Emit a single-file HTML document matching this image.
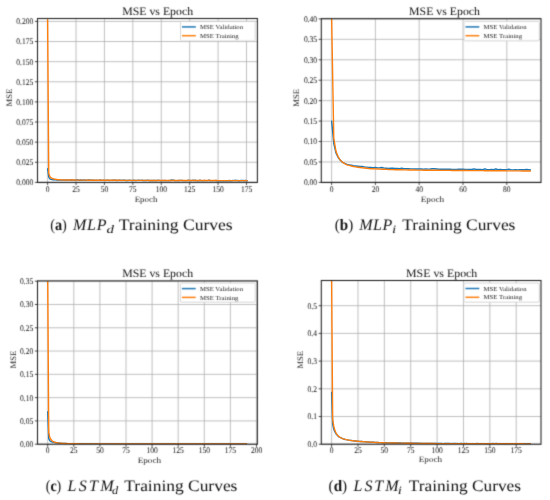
<!DOCTYPE html>
<html><head><meta charset="utf-8"><title>Training Curves</title>
<style>html,body{margin:0;padding:0;background:#fff;width:550px;height:500px;overflow:hidden}svg{display:block}text{font-family:"Liberation Serif", "DejaVu Serif", serif;text-rendering:geometricPrecision}</style></head>
<body><svg width="550" height="500" viewBox="0 0 550 500">
<defs><filter id="soft" x="0" y="0" width="550" height="500" filterUnits="userSpaceOnUse" color-interpolation-filters="sRGB"><feConvolveMatrix order="3" kernelMatrix="0.02041 0.10204 0.02041 0.10204 0.51020 0.10204 0.02041 0.10204 0.02041" edgeMode="duplicate"/></filter></defs>
<rect width="550" height="500" fill="#fff"/>
<g filter="url(#soft)">
<clipPath id="c0"><rect x="37.5" y="18.5" width="219.9" height="163.9"/></clipPath>
<path d="M47.6 18.5V182.4M76.02 18.5V182.4M104.43 18.5V182.4M132.84 18.5V182.4M161.26 18.5V182.4M189.68 18.5V182.4M218.09 18.5V182.4M246.5 18.5V182.4M37.5 182.4H257.4M37.5 162.28H257.4M37.5 142.15H257.4M37.5 122.03H257.4M37.5 101.9H257.4M37.5 81.78H257.4M37.5 61.65H257.4M37.5 41.53H257.4M37.5 21.4H257.4" stroke="#b0b0b0" stroke-width="0.8" fill="none"/>
<clipPath id="c1"><rect x="321.3" y="18.7" width="219.7" height="163.7"/></clipPath>
<path d="M331.6 18.7V182.4M375.4 18.7V182.4M419.2 18.7V182.4M463 18.7V182.4M506.8 18.7V182.4M321.3 182.4H541M321.3 161.96H541M321.3 141.53H541M321.3 121.09H541M321.3 100.65H541M321.3 80.21H541M321.3 59.77H541M321.3 39.34H541M321.3 18.9H541" stroke="#b0b0b0" stroke-width="0.8" fill="none"/>
<clipPath id="c2"><rect x="37.5" y="280.9" width="219.9" height="163.3"/></clipPath>
<path d="M47.7 280.9V444.2M73.8 280.9V444.2M99.9 280.9V444.2M126 280.9V444.2M152.1 280.9V444.2M178.2 280.9V444.2M204.3 280.9V444.2M230.4 280.9V444.2M256.5 280.9V444.2M37.5 444.2H257.4M37.5 420.91H257.4M37.5 397.63H257.4M37.5 374.34H257.4M37.5 351.06H257.4M37.5 327.77H257.4M37.5 304.49H257.4M37.5 281.2H257.4" stroke="#b0b0b0" stroke-width="0.8" fill="none"/>
<clipPath id="c3"><rect x="321.3" y="280.5" width="219.7" height="163.7"/></clipPath>
<path d="M331.6 280.5V444.2M357.98 280.5V444.2M384.35 280.5V444.2M410.73 280.5V444.2M437.1 280.5V444.2M463.48 280.5V444.2M489.85 280.5V444.2M516.23 280.5V444.2M321.3 444.2H541M321.3 416.5H541M321.3 388.8H541M321.3 361.1H541M321.3 333.4H541M321.3 305.7H541" stroke="#b0b0b0" stroke-width="0.8" fill="none"/>
</g>
<g>
<g clip-path="url(#c0)" fill="none" stroke-width="1.4" stroke-linejoin="round" stroke-linecap="butt"><polyline points="47.6,168.23 48.74,177.17 49.87,178.78 51.01,179.34 52.15,179.55 53.28,179.74 54.42,179.81 55.56,179.88 56.69,179.94 57.83,180 58.97,180.07 60.1,180.08 61.24,180.09 62.38,180.1 63.51,180.01 64.65,180.08 65.79,179.99 66.92,180.12 68.06,179.88 69.2,180.15 70.33,180.17 71.47,179.74 72.61,180.04 73.74,180.16 74.88,180.2 76.02,180.08 77.15,179.68 78.29,180.23 79.42,180.24 80.56,179.98 81.7,180.2 82.83,180.27 83.97,180.05 85.11,180.15 86.24,180.3 87.38,180.14 88.52,180.07 89.65,180.06 90.79,180.27 91.93,180.22 93.06,180.31 94.2,180.19 95.34,180.35 96.47,180.3 97.61,180.4 98.75,180.4 99.88,180.01 101.02,180.2 102.16,180.37 103.29,180.1 104.43,180.41 105.57,180.34 106.7,180.27 107.84,180.27 108.98,180.43 110.11,180.38 111.25,180.39 112.39,180.22 113.52,180.26 114.66,180.32 115.8,180.31 116.93,180.46 118.07,180.39 119.21,180.26 120.34,180.29 121.48,180.4 122.62,180.29 123.75,180.16 124.89,180.3 126.03,180.46 127.16,180.42 128.3,180.46 129.44,180.06 130.57,180.41 131.71,180.43 132.84,180.43 133.98,180.13 135.12,180.54 136.25,180.51 137.39,180.38 138.53,180.06 139.66,180.34 140.8,180.34 141.94,180.23 143.07,180.47 144.21,180.51 145.35,180.5 146.48,180.5 147.62,180.19 148.76,180.45 149.89,180.53 151.03,180.56 152.17,180.53 153.3,180.44 154.44,180.49 155.58,180.44 156.71,180.61 157.85,180.27 158.99,180.4 160.12,180.56 161.26,180.6 162.4,180.55 163.53,180.61 164.67,180.4 165.81,180.56 166.94,180.6 168.08,180.63 169.22,180.49 170.35,180.58 171.49,179.91 172.63,180.22 173.76,180.22 174.9,180.46 176.04,180.62 177.17,180.6 178.31,180.51 179.45,180.44 180.58,180.33 181.72,180.36 182.86,180.54 183.99,180.58 185.13,180.6 186.27,180.66 187.4,180.49 188.54,180.09 189.68,180.66 190.81,180.46 191.95,180.64 193.08,180.18 194.22,180.48 195.36,180.3 196.49,180.59 197.63,180.68 198.77,180.62 199.9,180.27 201.04,180.51 202.18,180.68 203.31,180.67 204.45,180.57 205.59,180.65 206.72,180.63 207.86,180.58 209,180.01 210.13,180.7 211.27,180.67 212.41,180.61 213.54,180.6 214.68,180.58 215.82,180.49 216.95,180.73 218.09,180.64 219.23,180.71 220.36,180.7 221.5,180.6 222.64,180.7 223.77,180.71 224.91,180.67 226.05,180.71 227.18,180.67 228.32,180.72 229.46,180.51 230.59,180.72 231.73,180.75 232.87,180.53 234,180.58 235.14,180.28 236.28,180.57 237.41,180.52 238.55,180.73 239.69,180.74 240.82,180.54 241.96,180.47 243.1,180.48 244.23,180.74 245.37,180.32 246.5,180.76 247.64,180.78" stroke="#1f77b4"/><polyline points="47.6,19.15 48.74,173.14 49.87,176.68 51.01,177.6 52.15,178.38 53.28,178.76 54.42,179.1 55.56,179.27 56.69,179.44 57.83,179.6 58.97,179.74 60.1,179.79 61.24,179.84 62.38,179.89 63.51,179.94 64.65,179.99 65.79,180 66.92,180.01 68.06,180.02 69.2,180.03 70.33,180.04 71.47,180.05 72.61,180.06 73.74,180.07 74.88,180.07 76.02,180.08 77.15,180.09 78.29,180.1 79.42,180.11 80.56,180.12 81.7,180.13 82.83,180.14 83.97,180.15 85.11,180.16 86.24,180.17 87.38,180.18 88.52,180.19 89.65,180.2 90.79,180.21 91.93,180.22 93.06,180.23 94.2,180.23 95.34,180.24 96.47,180.24 97.61,180.24 98.75,180.25 99.88,180.25 101.02,180.26 102.16,180.26 103.29,180.26 104.43,180.27 105.57,180.27 106.7,180.28 107.84,180.28 108.98,180.29 110.11,180.29 111.25,180.29 112.39,180.3 113.52,180.3 114.66,180.31 115.8,180.31 116.93,180.31 118.07,180.32 119.21,180.32 120.34,180.33 121.48,180.33 122.62,180.33 123.75,180.34 124.89,180.34 126.03,180.35 127.16,180.35 128.3,180.35 129.44,180.36 130.57,180.36 131.71,180.37 132.84,180.37 133.98,180.37 135.12,180.38 136.25,180.38 137.39,180.39 138.53,180.39 139.66,180.39 140.8,180.4 141.94,180.4 143.07,180.41 144.21,180.41 145.35,180.41 146.48,180.42 147.62,180.42 148.76,180.43 149.89,180.43 151.03,180.43 152.17,180.44 153.3,180.44 154.44,180.45 155.58,180.45 156.71,180.45 157.85,180.46 158.99,180.46 160.12,180.46 161.26,180.47 162.4,180.47 163.53,180.47 164.67,180.47 165.81,180.48 166.94,180.48 168.08,180.48 169.22,180.48 170.35,180.49 171.49,180.49 172.63,180.49 173.76,180.49 174.9,180.49 176.04,180.5 177.17,180.5 178.31,180.5 179.45,180.5 180.58,180.51 181.72,180.51 182.86,180.51 183.99,180.51 185.13,180.51 186.27,180.52 187.4,180.52 188.54,180.52 189.68,180.52 190.81,180.52 191.95,180.53 193.08,180.53 194.22,180.53 195.36,180.53 196.49,180.54 197.63,180.54 198.77,180.54 199.9,180.54 201.04,180.54 202.18,180.55 203.31,180.55 204.45,180.55 205.59,180.55 206.72,180.55 207.86,180.56 209,180.56 210.13,180.56 211.27,180.56 212.41,180.57 213.54,180.57 214.68,180.57 215.82,180.57 216.95,180.57 218.09,180.58 219.23,180.58 220.36,180.58 221.5,180.58 222.64,180.58 223.77,180.59 224.91,180.59 226.05,180.59 227.18,180.59 228.32,180.59 229.46,180.6 230.59,180.6 231.73,180.6 232.87,180.6 234,180.6 235.14,180.61 236.28,180.61 237.41,180.61 238.55,180.61 239.69,180.61 240.82,180.62 241.96,180.62 243.1,180.62 244.23,180.62 245.37,180.62 246.5,180.63 247.64,180.63" stroke="#ff7f0e"/></g>
<g clip-path="url(#c1)" fill="none" stroke-width="1.4" stroke-linejoin="round" stroke-linecap="butt"><polyline points="331.6,120.68 333.79,143.57 335.98,152.97 338.17,157.47 340.36,160.33 342.55,162.37 344.74,163.42 346.93,164.41 349.12,164.86 351.31,165.3 353.5,165.72 355.69,166 357.88,166.26 360.07,166.53 362.26,166.38 364.45,166.94 366.64,167.13 368.83,167.4 371.02,167.5 373.21,167.69 375.4,167.44 377.59,167.88 379.78,167.79 381.97,167.49 384.16,168.12 386.35,168.24 388.54,168.37 390.73,168.29 392.92,168.25 395.11,168.36 397.3,168.38 399.49,168.68 401.68,168.28 403.87,168.76 406.06,168.71 408.25,168.72 410.44,168.83 412.63,168.92 414.82,168.97 417.01,169.01 419.2,169.05 421.39,168.99 423.58,169.1 425.77,168.86 427.96,169.15 430.15,169.03 432.34,168.77 434.53,168.74 436.72,169 438.91,169.22 441.1,169.29 443.29,169.19 445.48,169.14 447.67,169.31 449.86,169.16 452.05,169.38 454.24,169.42 456.43,169.42 458.62,169.32 460.81,169.26 463,169.23 465.19,169.39 467.38,169.47 469.57,169.56 471.76,169.52 473.95,168.92 476.14,169.54 478.33,169.51 480.52,169.56 482.71,169.67 484.9,168.79 487.09,169.69 489.28,169.68 491.47,169.55 493.66,169.76 495.85,168.89 498.04,169.73 500.23,169.52 502.42,169.77 504.61,169.61 506.8,169.71 508.99,169.19 511.18,169.89 513.37,169.91 515.56,169.81 517.75,169.86 519.94,169.75 522.13,169.6 524.32,169.71 526.51,169.55 528.7,169.76 530.89,170.04" stroke="#1f77b4"/><polyline points="331.6,16.86 333.79,138.25 335.98,151.34 338.17,156.85 340.36,160.12 342.55,162.37 344.74,163.64 346.93,164.82 349.12,165.42 351.31,165.99 353.5,166.54 355.69,166.87 357.88,167.19 360.07,167.5 362.26,167.81 364.45,168.05 366.64,168.28 368.83,168.51 371.02,168.68 373.21,168.78 375.4,168.89 377.59,169 379.78,169.1 381.97,169.2 384.16,169.3 386.35,169.41 388.54,169.51 390.73,169.61 392.92,169.65 395.11,169.69 397.3,169.73 399.49,169.77 401.68,169.81 403.87,169.85 406.06,169.9 408.25,169.94 410.44,169.98 412.63,170.02 414.82,170.06 417.01,170.1 419.2,170.14 421.39,170.16 423.58,170.18 425.77,170.2 427.96,170.22 430.15,170.24 432.34,170.26 434.53,170.28 436.72,170.3 438.91,170.32 441.1,170.34 443.29,170.36 445.48,170.38 447.67,170.4 449.86,170.42 452.05,170.44 454.24,170.47 456.43,170.49 458.62,170.51 460.81,170.52 463,170.54 465.19,170.55 467.38,170.57 469.57,170.58 471.76,170.6 473.95,170.61 476.14,170.63 478.33,170.64 480.52,170.66 482.71,170.67 484.9,170.69 487.09,170.7 489.28,170.72 491.47,170.73 493.66,170.75 495.85,170.76 498.04,170.78 500.23,170.79 502.42,170.81 504.61,170.82 506.8,170.83 508.99,170.85 511.18,170.86 513.37,170.88 515.56,170.89 517.75,170.91 519.94,170.92 522.13,170.94 524.32,170.95 526.51,170.97 528.7,170.98 530.89,171" stroke="#ff7f0e"/></g>
<g clip-path="url(#c2)" fill="none" stroke-width="1.4" stroke-linejoin="round" stroke-linecap="butt"><polyline points="47.7,411.32 48.74,438.61 49.79,440.71 50.83,441.5 51.88,441.82 52.92,442.1 53.96,442.35 55.01,442.56 56.05,442.75 57.1,442.91 58.14,443.05 59.18,443.18 60.23,443.26 61.27,443.34 62.32,443.4 63.36,443.42 64.4,443.53 65.45,443.49 66.49,443.57 67.54,443.61 68.58,443.63 69.62,443.64 70.67,443.68 71.71,443.61 72.76,443.71 73.8,443.64 74.84,443.76 75.89,443.72 76.93,443.79 77.98,443.77 79.02,443.82 80.06,443.82 81.11,443.81 82.15,443.81 83.2,443.82 84.24,443.83 85.28,443.82 86.33,443.84 87.37,443.81 88.42,443.85 89.46,443.81 90.5,443.78 91.55,443.87 92.59,443.85 93.64,443.85 94.68,443.88 95.72,443.83 96.77,443.87 97.81,443.86 98.86,443.88 99.9,443.88 100.94,443.89 101.99,443.89 103.03,443.88 104.08,443.88 105.12,443.9 106.16,443.89 107.21,443.9 108.25,443.88 109.3,443.92 110.34,443.76 111.38,443.87 112.43,443.92 113.47,443.89 114.52,443.91 115.56,443.92 116.6,443.88 117.65,443.93 118.69,443.89 119.74,443.9 120.78,443.94 121.82,443.87 122.87,443.94 123.91,443.93 124.96,443.87 126,443.94 127.04,443.95 128.09,443.89 129.13,443.96 130.18,443.97 131.22,443.97 132.26,443.93 133.31,443.96 134.35,443.95 135.4,443.95 136.44,443.85 137.48,443.98 138.53,443.97 139.57,443.95 140.62,443.98 141.66,443.98 142.7,443.99 143.75,443.93 144.79,443.99 145.84,444 146.88,443.96 147.92,443.99 148.97,443.92 150.01,444 151.06,444 152.1,443.99 153.14,443.98 154.19,444 155.23,443.99 156.28,443.98 157.32,444 158.36,443.98 159.41,444.01 160.45,443.92 161.5,444 162.54,444.02 163.58,444.01 164.63,444.02 165.67,443.97 166.72,444.02 167.76,443.96 168.8,443.99 169.85,443.95 170.89,443.98 171.94,444.02 172.98,443.99 174.02,444.01 175.07,443.98 176.11,444.02 177.16,444 178.2,444.02 179.24,444.02 180.29,444.01 181.33,443.95 182.38,444.02 183.42,444.02 184.46,444.01 185.51,444.03 186.55,443.95 187.6,444.01 188.64,444.02 189.68,443.95 190.73,443.95 191.77,443.98 192.82,443.99 193.86,443.97 194.9,444.01 195.95,443.99 196.99,444.02 198.04,443.95 199.08,444.03 200.12,443.93 201.17,444 202.21,444 203.26,443.99 204.3,444.03 205.34,444.02 206.39,444 207.43,444.01 208.48,444.03 209.52,444.04 210.56,443.99 211.61,443.97 212.65,444.04 213.7,444.04 214.74,444.03 215.78,443.99 216.83,444.03 217.87,444.02 218.92,444.04 219.96,444.03 221,444.04 222.05,444.04 223.09,444.02 224.14,444.03 225.18,444.01 226.22,444.02 227.27,444.02 228.31,444.02 229.36,444.03 230.4,444.02 231.44,444.05 232.49,444.04 233.53,444.05 234.58,444.03 235.62,444.05 236.66,444.06 237.71,444 238.75,444.04 239.8,444.05 240.84,444.05 241.88,443.99 242.93,444 243.97,443.99 245.02,444.06 246.06,444.06 247.1,444.01" stroke="#1f77b4"/><polyline points="47.7,276.55 48.74,432.56 49.79,437.45 50.83,439.31 51.88,440.5 52.92,441.41 53.96,441.85 55.01,442.22 56.05,442.51 57.1,442.72 58.14,442.92 59.18,443.08 60.23,443.18 61.27,443.27 62.32,443.36 63.36,443.43 64.4,443.5 65.45,443.53 66.49,443.56 67.54,443.59 68.58,443.62 69.62,443.64 70.67,443.67 71.71,443.69 72.76,443.71 73.8,443.73 74.84,443.75 75.89,443.77 76.93,443.79 77.98,443.81 79.02,443.83 80.06,443.83 81.11,443.83 82.15,443.84 83.2,443.84 84.24,443.85 85.28,443.85 86.33,443.85 87.37,443.86 88.42,443.86 89.46,443.86 90.5,443.87 91.55,443.87 92.59,443.87 93.64,443.88 94.68,443.88 95.72,443.88 96.77,443.89 97.81,443.89 98.86,443.89 99.9,443.89 100.94,443.9 101.99,443.9 103.03,443.9 104.08,443.91 105.12,443.91 106.16,443.91 107.21,443.91 108.25,443.92 109.3,443.92 110.34,443.92 111.38,443.93 112.43,443.93 113.47,443.93 114.52,443.93 115.56,443.94 116.6,443.94 117.65,443.94 118.69,443.94 119.74,443.95 120.78,443.95 121.82,443.95 122.87,443.95 123.91,443.96 124.96,443.96 126,443.96 127.04,443.96 128.09,443.97 129.13,443.97 130.18,443.97 131.22,443.97 132.26,443.98 133.31,443.98 134.35,443.98 135.4,443.98 136.44,443.98 137.48,443.99 138.53,443.99 139.57,443.99 140.62,443.99 141.66,443.99 142.7,444 143.75,444 144.79,444 145.84,444 146.88,444 147.92,444.01 148.97,444.01 150.01,444.01 151.06,444.01 152.1,444.01 153.14,444.01 154.19,444.01 155.23,444.02 156.28,444.02 157.32,444.02 158.36,444.02 159.41,444.02 160.45,444.02 161.5,444.02 162.54,444.02 163.58,444.02 164.63,444.02 165.67,444.02 166.72,444.02 167.76,444.02 168.8,444.02 169.85,444.02 170.89,444.02 171.94,444.02 172.98,444.03 174.02,444.03 175.07,444.03 176.11,444.03 177.16,444.03 178.2,444.03 179.24,444.03 180.29,444.03 181.33,444.03 182.38,444.03 183.42,444.03 184.46,444.03 185.51,444.03 186.55,444.03 187.6,444.03 188.64,444.03 189.68,444.03 190.73,444.03 191.77,444.03 192.82,444.04 193.86,444.04 194.9,444.04 195.95,444.04 196.99,444.04 198.04,444.04 199.08,444.04 200.12,444.04 201.17,444.04 202.21,444.04 203.26,444.04 204.3,444.04 205.34,444.04 206.39,444.04 207.43,444.04 208.48,444.04 209.52,444.04 210.56,444.04 211.61,444.04 212.65,444.04 213.7,444.05 214.74,444.05 215.78,444.05 216.83,444.05 217.87,444.05 218.92,444.05 219.96,444.05 221,444.05 222.05,444.05 223.09,444.05 224.14,444.05 225.18,444.05 226.22,444.05 227.27,444.05 228.31,444.05 229.36,444.05 230.4,444.05 231.44,444.05 232.49,444.05 233.53,444.05 234.58,444.05 235.62,444.06 236.66,444.06 237.71,444.06 238.75,444.06 239.8,444.06 240.84,444.06 241.88,444.06 242.93,444.06 243.97,444.06 245.02,444.06 246.06,444.06 247.1,444.06" stroke="#ff7f0e"/></g>
<g clip-path="url(#c3)" fill="none" stroke-width="1.4" stroke-linejoin="round" stroke-linecap="butt"><polyline points="331.6,391.85 332.66,424.26 333.71,428.96 334.77,431.74 335.82,433.46 336.88,434.82 337.93,435.9 338.99,436.86 340.04,437.45 341.1,437.98 342.15,438.48 343.21,438.94 344.26,439.21 345.31,439.47 346.37,439.63 347.43,439.89 348.48,440.15 349.54,440.32 350.59,440.44 351.65,440.53 352.7,440.63 353.75,440.82 354.81,440.94 355.87,441.04 356.92,441.21 357.98,441.28 359.03,441.39 360.09,441.48 361.14,441.56 362.2,441.56 363.25,441.67 364.31,441.61 365.36,441.72 366.42,441.85 367.47,441.88 368.53,441.92 369.58,442.04 370.63,442.13 371.69,442.15 372.75,442.28 373.8,442.18 374.86,442.39 375.91,442.4 376.97,442.47 378.02,442.38 379.08,442.58 380.13,442.63 381.19,442.66 382.24,442.72 383.3,442.76 384.35,442.81 385.41,442.81 386.46,442.67 387.52,442.86 388.57,442.89 389.62,442.91 390.68,442.87 391.74,442.92 392.79,442.95 393.85,442.99 394.9,442.96 395.96,443.03 397.01,443.03 398.06,443.04 399.12,443.03 400.18,442.96 401.23,443.09 402.29,443.12 403.34,443.11 404.4,443.14 405.45,443.17 406.5,443.19 407.56,443.19 408.62,443.23 409.67,443.21 410.73,443.15 411.78,443.11 412.84,443.28 413.89,443.26 414.95,443.29 416,443.25 417.06,443.3 418.11,443.2 419.17,443.35 420.22,443.26 421.28,443.39 422.33,443.4 423.38,443.42 424.44,443.34 425.5,443.42 426.55,443.44 427.61,443.45 428.66,443.42 429.72,443.36 430.77,443.44 431.83,443.51 432.88,443.41 433.94,443.5 434.99,443.54 436.05,443.38 437.1,443.47 438.16,443.49 439.21,443.46 440.26,443.54 441.32,443.47 442.38,443.56 443.43,443.58 444.49,443.53 445.54,443.56 446.6,443.57 447.65,443.52 448.71,443.55 449.76,443.56 450.81,443.59 451.87,443.56 452.93,443.6 453.98,443.49 455.04,443.36 456.09,443.6 457.14,443.55 458.2,443.62 459.25,443.6 460.31,443.53 461.37,443.53 462.42,443.62 463.48,443.62 464.53,443.52 465.59,443.62 466.64,443.55 467.7,443.65 468.75,443.58 469.81,443.59 470.86,443.59 471.92,443.59 472.97,443.64 474.02,443.65 475.08,443.68 476.13,443.65 477.19,443.56 478.25,443.68 479.3,443.67 480.36,443.67 481.41,443.69 482.47,443.62 483.52,443.67 484.58,443.59 485.63,443.68 486.69,443.7 487.74,443.67 488.8,443.69 489.85,443.65 490.9,443.66 491.96,443.6 493.01,443.56 494.07,443.69 495.12,443.68 496.18,443.49 497.24,443.61 498.29,443.71 499.35,443.74 500.4,443.74 501.46,443.74 502.51,443.67 503.57,443.68 504.62,443.73 505.68,443.74 506.73,443.75 507.79,443.67 508.84,443.75 509.89,443.74 510.95,443.72 512,443.63 513.06,443.76 514.12,443.64 515.17,443.75 516.23,443.76 517.28,443.63 518.34,443.76 519.39,443.69 520.45,443.77 521.5,443.75 522.56,443.75 523.61,443.77 524.66,443.69 525.72,443.78 526.77,443.8 527.83,443.79 528.88,443.76 529.94,443.76 531,443.77" stroke="#1f77b4"/><polyline points="331.6,278 332.66,419.27 333.71,425.92 334.77,430.07 335.82,432.59 336.88,434.35 337.93,435.59 338.99,436.67 340.04,437.27 341.1,437.82 342.15,438.33 343.21,438.8 344.26,439.09 345.31,439.36 346.37,439.62 347.43,439.87 348.48,440.1 349.54,440.28 350.59,440.43 351.65,440.57 352.7,440.7 353.75,440.83 354.81,440.95 355.87,441.07 356.92,441.18 357.98,441.29 359.03,441.38 360.09,441.46 361.14,441.54 362.2,441.62 363.25,441.69 364.31,441.77 365.36,441.84 366.42,441.91 367.47,441.97 368.53,442.04 369.58,442.1 370.63,442.16 371.69,442.22 372.75,442.28 373.8,442.34 374.86,442.39 375.91,442.44 376.97,442.5 378.02,442.55 379.08,442.59 380.13,442.64 381.19,442.69 382.24,442.73 383.3,442.77 384.35,442.81 385.41,442.84 386.46,442.86 387.52,442.88 388.57,442.9 389.62,442.92 390.68,442.94 391.74,442.97 392.79,442.99 393.85,443.01 394.9,443.02 395.96,443.04 397.01,443.06 398.06,443.08 399.12,443.1 400.18,443.12 401.23,443.13 402.29,443.15 403.34,443.17 404.4,443.19 405.45,443.2 406.5,443.22 407.56,443.23 408.62,443.25 409.67,443.27 410.73,443.28 411.78,443.3 412.84,443.31 413.89,443.33 414.95,443.34 416,443.35 417.06,443.37 418.11,443.38 419.17,443.39 420.22,443.41 421.28,443.42 422.33,443.43 423.38,443.45 424.44,443.46 425.5,443.47 426.55,443.48 427.61,443.49 428.66,443.51 429.72,443.52 430.77,443.53 431.83,443.54 432.88,443.55 433.94,443.56 434.99,443.57 436.05,443.58 437.1,443.59 438.16,443.59 439.21,443.6 440.26,443.6 441.32,443.6 442.38,443.61 443.43,443.61 444.49,443.62 445.54,443.62 446.6,443.62 447.65,443.63 448.71,443.63 449.76,443.63 450.81,443.64 451.87,443.64 452.93,443.64 453.98,443.65 455.04,443.65 456.09,443.65 457.14,443.66 458.2,443.66 459.25,443.66 460.31,443.66 461.37,443.67 462.42,443.67 463.48,443.67 464.53,443.68 465.59,443.68 466.64,443.68 467.7,443.69 468.75,443.69 469.81,443.69 470.86,443.7 471.92,443.7 472.97,443.7 474.02,443.7 475.08,443.71 476.13,443.71 477.19,443.71 478.25,443.72 479.3,443.72 480.36,443.72 481.41,443.72 482.47,443.73 483.52,443.73 484.58,443.73 485.63,443.74 486.69,443.74 487.74,443.74 488.8,443.74 489.85,443.75 490.9,443.75 491.96,443.75 493.01,443.75 494.07,443.76 495.12,443.76 496.18,443.76 497.24,443.76 498.29,443.77 499.35,443.77 500.4,443.77 501.46,443.78 502.51,443.78 503.57,443.78 504.62,443.78 505.68,443.79 506.73,443.79 507.79,443.79 508.84,443.79 509.89,443.79 510.95,443.8 512,443.8 513.06,443.8 514.12,443.8 515.17,443.81 516.23,443.81 517.28,443.81 518.34,443.81 519.39,443.82 520.45,443.82 521.5,443.82 522.56,443.82 523.61,443.82 524.66,443.83 525.72,443.83 526.77,443.83 527.83,443.83 528.88,443.84 529.94,443.84 531,443.84" stroke="#ff7f0e"/></g>
</g>
<g filter="url(#soft)">
<rect x="37.5" y="18.5" width="219.9" height="163.9" fill="none" stroke="#1e1e1e" stroke-width="1.05"/>
<path d="M47.6 182.4v2.6M76.02 182.4v2.6M104.43 182.4v2.6M132.84 182.4v2.6M161.26 182.4v2.6M189.68 182.4v2.6M218.09 182.4v2.6M246.5 182.4v2.6M37.5 182.4h-2.6M37.5 162.28h-2.6M37.5 142.15h-2.6M37.5 122.03h-2.6M37.5 101.9h-2.6M37.5 81.78h-2.6M37.5 61.65h-2.6M37.5 41.53h-2.6M37.5 21.4h-2.6" stroke="#1e1e1e" stroke-width="0.8"/>
<g font-size="8.6" fill="#1a1a1a" stroke="#1a1a1a" stroke-width="0.05"><text x="47.6" y="191.6" text-anchor="middle" textLength="3.75" lengthAdjust="spacingAndGlyphs">0</text><text x="76.02" y="191.6" text-anchor="middle" textLength="7.5" lengthAdjust="spacingAndGlyphs">25</text><text x="104.43" y="191.6" text-anchor="middle" textLength="7.5" lengthAdjust="spacingAndGlyphs">50</text><text x="132.84" y="191.6" text-anchor="middle" textLength="7.5" lengthAdjust="spacingAndGlyphs">75</text><text x="161.26" y="191.6" text-anchor="middle" textLength="11.25" lengthAdjust="spacingAndGlyphs">100</text><text x="189.68" y="191.6" text-anchor="middle" textLength="11.25" lengthAdjust="spacingAndGlyphs">125</text><text x="218.09" y="191.6" text-anchor="middle" textLength="11.25" lengthAdjust="spacingAndGlyphs">150</text><text x="246.5" y="191.6" text-anchor="middle" textLength="11.25" lengthAdjust="spacingAndGlyphs">175</text><text x="33.2" y="185.3" text-anchor="end" textLength="16.88" lengthAdjust="spacingAndGlyphs">0.000</text><text x="33.2" y="165.18" text-anchor="end" textLength="16.88" lengthAdjust="spacingAndGlyphs">0.025</text><text x="33.2" y="145.05" text-anchor="end" textLength="16.88" lengthAdjust="spacingAndGlyphs">0.050</text><text x="33.2" y="124.93" text-anchor="end" textLength="16.88" lengthAdjust="spacingAndGlyphs">0.075</text><text x="33.2" y="104.8" text-anchor="end" textLength="16.88" lengthAdjust="spacingAndGlyphs">0.100</text><text x="33.2" y="84.68" text-anchor="end" textLength="16.88" lengthAdjust="spacingAndGlyphs">0.125</text><text x="33.2" y="64.55" text-anchor="end" textLength="16.88" lengthAdjust="spacingAndGlyphs">0.150</text><text x="33.2" y="44.43" text-anchor="end" textLength="16.88" lengthAdjust="spacingAndGlyphs">0.175</text><text x="33.2" y="24.3" text-anchor="end" textLength="16.88" lengthAdjust="spacingAndGlyphs">0.200</text></g>
<rect x="180.5" y="21.4" width="74.7" height="19.5" rx="1.2" fill="#fff" fill-opacity="0.94" stroke="#cccccc" stroke-width="0.8"/>
<path d="M182 26.9h13.8" stroke="#1f77b4" stroke-width="1.5"/>
<path d="M182 35.7h13.8" stroke="#ff7f0e" stroke-width="1.5"/>
<g font-size="6.1" fill="#1a1a1a"><text x="200.1" y="29" textLength="43" lengthAdjust="spacingAndGlyphs">MSE Validation</text><text x="200.1" y="37.8" textLength="38.5" lengthAdjust="spacingAndGlyphs">MSE Training</text></g>
<text x="122.2" y="14.9" font-size="11.4" textLength="70.9" lengthAdjust="spacingAndGlyphs" fill="#111">MSE vs Epoch</text>
<text x="134.7" y="201.9" font-size="8.2" textLength="22.7" lengthAdjust="spacingAndGlyphs" fill="#1a1a1a">Epoch</text>
<text transform="translate(11.8,106.4) rotate(-90)" x="0" y="0" font-size="8.4" textLength="17.6" lengthAdjust="spacingAndGlyphs" fill="#1a1a1a">MSE</text>
<g font-family='"Liberation Serif", serif' font-size="16" fill="#111"><text x="50.2" y="229.6" textLength="16.6" lengthAdjust="spacingAndGlyphs">(<tspan font-weight="bold">a</tspan>)</text><text x="73" y="229.6" font-style="italic" textLength="33.5" lengthAdjust="spacing">MLP</text><text x="106.4" y="232.5" font-style="italic" font-size="11.4" textLength="7.5" lengthAdjust="spacingAndGlyphs">d</text><text x="118.7" y="229.6" textLength="114" lengthAdjust="spacingAndGlyphs">Training Curves</text></g>
<rect x="321.3" y="18.7" width="219.7" height="163.7" fill="none" stroke="#1e1e1e" stroke-width="1.05"/>
<path d="M331.6 182.4v2.6M375.4 182.4v2.6M419.2 182.4v2.6M463 182.4v2.6M506.8 182.4v2.6M321.3 182.4h-2.6M321.3 161.96h-2.6M321.3 141.53h-2.6M321.3 121.09h-2.6M321.3 100.65h-2.6M321.3 80.21h-2.6M321.3 59.77h-2.6M321.3 39.34h-2.6M321.3 18.9h-2.6" stroke="#1e1e1e" stroke-width="0.8"/>
<g font-size="8.6" fill="#1a1a1a" stroke="#1a1a1a" stroke-width="0.05"><text x="331.6" y="191.6" text-anchor="middle" textLength="3.75" lengthAdjust="spacingAndGlyphs">0</text><text x="375.4" y="191.6" text-anchor="middle" textLength="7.5" lengthAdjust="spacingAndGlyphs">20</text><text x="419.2" y="191.6" text-anchor="middle" textLength="7.5" lengthAdjust="spacingAndGlyphs">40</text><text x="463" y="191.6" text-anchor="middle" textLength="7.5" lengthAdjust="spacingAndGlyphs">60</text><text x="506.8" y="191.6" text-anchor="middle" textLength="7.5" lengthAdjust="spacingAndGlyphs">80</text><text x="317" y="185.3" text-anchor="end" textLength="13.12" lengthAdjust="spacingAndGlyphs">0.00</text><text x="317" y="164.86" text-anchor="end" textLength="13.12" lengthAdjust="spacingAndGlyphs">0.05</text><text x="317" y="144.43" text-anchor="end" textLength="13.12" lengthAdjust="spacingAndGlyphs">0.10</text><text x="317" y="123.99" text-anchor="end" textLength="13.12" lengthAdjust="spacingAndGlyphs">0.15</text><text x="317" y="103.55" text-anchor="end" textLength="13.12" lengthAdjust="spacingAndGlyphs">0.20</text><text x="317" y="83.11" text-anchor="end" textLength="13.12" lengthAdjust="spacingAndGlyphs">0.25</text><text x="317" y="62.67" text-anchor="end" textLength="13.12" lengthAdjust="spacingAndGlyphs">0.30</text><text x="317" y="42.24" text-anchor="end" textLength="13.12" lengthAdjust="spacingAndGlyphs">0.35</text><text x="317" y="21.8" text-anchor="end" textLength="13.12" lengthAdjust="spacingAndGlyphs">0.40</text></g>
<rect x="464" y="21.4" width="75.3" height="19.5" rx="1.2" fill="#fff" fill-opacity="0.94" stroke="#cccccc" stroke-width="0.8"/>
<path d="M465.5 26.9h13.8" stroke="#1f77b4" stroke-width="1.5"/>
<path d="M465.5 35.7h13.8" stroke="#ff7f0e" stroke-width="1.5"/>
<g font-size="6.1" fill="#1a1a1a"><text x="483.6" y="29" textLength="43" lengthAdjust="spacingAndGlyphs">MSE Validation</text><text x="483.6" y="37.8" textLength="38.5" lengthAdjust="spacingAndGlyphs">MSE Training</text></g>
<text x="409.1" y="14.9" font-size="11.4" textLength="70.9" lengthAdjust="spacingAndGlyphs" fill="#111">MSE vs Epoch</text>
<text x="420.7" y="201.5" font-size="8.2" textLength="23.5" lengthAdjust="spacingAndGlyphs" fill="#1a1a1a">Epoch</text>
<text transform="translate(299.4,106.8) rotate(-90)" x="0" y="0" font-size="8.4" textLength="18" lengthAdjust="spacingAndGlyphs" fill="#1a1a1a">MSE</text>
<g font-family='"Liberation Serif", serif' font-size="16" fill="#111"><text x="334.8" y="229.6" textLength="18.4" lengthAdjust="spacingAndGlyphs">(<tspan font-weight="bold">b</tspan>)</text><text x="359.3" y="229.6" font-style="italic" textLength="32.9" lengthAdjust="spacing">MLP</text><text x="392" y="232.5" font-style="italic" font-size="11.4" textLength="4.2" lengthAdjust="spacingAndGlyphs">i</text><text x="402.3" y="229.6" textLength="113.1" lengthAdjust="spacingAndGlyphs">Training Curves</text></g>
<rect x="37.5" y="280.9" width="219.9" height="163.3" fill="none" stroke="#1e1e1e" stroke-width="1.05"/>
<path d="M47.7 444.2v2.6M73.8 444.2v2.6M99.9 444.2v2.6M126 444.2v2.6M152.1 444.2v2.6M178.2 444.2v2.6M204.3 444.2v2.6M230.4 444.2v2.6M256.5 444.2v2.6M37.5 444.2h-2.6M37.5 420.91h-2.6M37.5 397.63h-2.6M37.5 374.34h-2.6M37.5 351.06h-2.6M37.5 327.77h-2.6M37.5 304.49h-2.6M37.5 281.2h-2.6" stroke="#1e1e1e" stroke-width="0.8"/>
<g font-size="8.6" fill="#1a1a1a" stroke="#1a1a1a" stroke-width="0.05"><text x="47.7" y="453.4" text-anchor="middle" textLength="3.75" lengthAdjust="spacingAndGlyphs">0</text><text x="73.8" y="453.4" text-anchor="middle" textLength="7.5" lengthAdjust="spacingAndGlyphs">25</text><text x="99.9" y="453.4" text-anchor="middle" textLength="7.5" lengthAdjust="spacingAndGlyphs">50</text><text x="126" y="453.4" text-anchor="middle" textLength="7.5" lengthAdjust="spacingAndGlyphs">75</text><text x="152.1" y="453.4" text-anchor="middle" textLength="11.25" lengthAdjust="spacingAndGlyphs">100</text><text x="178.2" y="453.4" text-anchor="middle" textLength="11.25" lengthAdjust="spacingAndGlyphs">125</text><text x="204.3" y="453.4" text-anchor="middle" textLength="11.25" lengthAdjust="spacingAndGlyphs">150</text><text x="230.4" y="453.4" text-anchor="middle" textLength="11.25" lengthAdjust="spacingAndGlyphs">175</text><text x="256.5" y="453.4" text-anchor="middle" textLength="11.25" lengthAdjust="spacingAndGlyphs">200</text><text x="33.2" y="447.1" text-anchor="end" textLength="13.12" lengthAdjust="spacingAndGlyphs">0.00</text><text x="33.2" y="423.81" text-anchor="end" textLength="13.12" lengthAdjust="spacingAndGlyphs">0.05</text><text x="33.2" y="400.53" text-anchor="end" textLength="13.12" lengthAdjust="spacingAndGlyphs">0.10</text><text x="33.2" y="377.24" text-anchor="end" textLength="13.12" lengthAdjust="spacingAndGlyphs">0.15</text><text x="33.2" y="353.96" text-anchor="end" textLength="13.12" lengthAdjust="spacingAndGlyphs">0.20</text><text x="33.2" y="330.67" text-anchor="end" textLength="13.12" lengthAdjust="spacingAndGlyphs">0.25</text><text x="33.2" y="307.39" text-anchor="end" textLength="13.12" lengthAdjust="spacingAndGlyphs">0.30</text><text x="33.2" y="284.1" text-anchor="end" textLength="13.12" lengthAdjust="spacingAndGlyphs">0.35</text></g>
<rect x="180.4" y="283.1" width="74.8" height="19.1" rx="1.2" fill="#fff" fill-opacity="0.94" stroke="#cccccc" stroke-width="0.8"/>
<path d="M181.9 288.6h13.8" stroke="#1f77b4" stroke-width="1.5"/>
<path d="M181.9 297.4h13.8" stroke="#ff7f0e" stroke-width="1.5"/>
<g font-size="6.1" fill="#1a1a1a"><text x="200" y="290.7" textLength="43" lengthAdjust="spacingAndGlyphs">MSE Validation</text><text x="200" y="299.5" textLength="38.5" lengthAdjust="spacingAndGlyphs">MSE Training</text></g>
<text x="122.2" y="276.7" font-size="11.4" textLength="70.9" lengthAdjust="spacingAndGlyphs" fill="#111">MSE vs Epoch</text>
<text x="137.7" y="462.7" font-size="8.2" textLength="23.4" lengthAdjust="spacingAndGlyphs" fill="#1a1a1a">Epoch</text>
<text transform="translate(15.8,368.4) rotate(-90)" x="0" y="0" font-size="8.4" textLength="17.6" lengthAdjust="spacingAndGlyphs" fill="#1a1a1a">MSE</text>
<g font-family='"Liberation Serif", serif' font-size="16" fill="#111"><text x="45.7" y="491.2" textLength="15.6" lengthAdjust="spacingAndGlyphs">(<tspan font-weight="bold">c</tspan>)</text><text x="67.5" y="491.2" font-style="italic" textLength="46" lengthAdjust="spacing">LSTM</text><text x="112" y="494.1" font-style="italic" font-size="11.4" textLength="6.2" lengthAdjust="spacingAndGlyphs">d</text><text x="124.3" y="491.2" textLength="113.1" lengthAdjust="spacingAndGlyphs">Training Curves</text></g>
<rect x="321.3" y="280.5" width="219.7" height="163.7" fill="none" stroke="#1e1e1e" stroke-width="1.05"/>
<path d="M331.6 444.2v2.6M357.98 444.2v2.6M384.35 444.2v2.6M410.73 444.2v2.6M437.1 444.2v2.6M463.48 444.2v2.6M489.85 444.2v2.6M516.23 444.2v2.6M321.3 444.2h-2.6M321.3 416.5h-2.6M321.3 388.8h-2.6M321.3 361.1h-2.6M321.3 333.4h-2.6M321.3 305.7h-2.6" stroke="#1e1e1e" stroke-width="0.8"/>
<g font-size="8.6" fill="#1a1a1a" stroke="#1a1a1a" stroke-width="0.05"><text x="331.6" y="453.4" text-anchor="middle" textLength="3.75" lengthAdjust="spacingAndGlyphs">0</text><text x="357.98" y="453.4" text-anchor="middle" textLength="7.5" lengthAdjust="spacingAndGlyphs">25</text><text x="384.35" y="453.4" text-anchor="middle" textLength="7.5" lengthAdjust="spacingAndGlyphs">50</text><text x="410.73" y="453.4" text-anchor="middle" textLength="7.5" lengthAdjust="spacingAndGlyphs">75</text><text x="437.1" y="453.4" text-anchor="middle" textLength="11.25" lengthAdjust="spacingAndGlyphs">100</text><text x="463.48" y="453.4" text-anchor="middle" textLength="11.25" lengthAdjust="spacingAndGlyphs">125</text><text x="489.85" y="453.4" text-anchor="middle" textLength="11.25" lengthAdjust="spacingAndGlyphs">150</text><text x="516.23" y="453.4" text-anchor="middle" textLength="11.25" lengthAdjust="spacingAndGlyphs">175</text><text x="317" y="447.1" text-anchor="end" textLength="9.38" lengthAdjust="spacingAndGlyphs">0.0</text><text x="317" y="419.4" text-anchor="end" textLength="9.38" lengthAdjust="spacingAndGlyphs">0.1</text><text x="317" y="391.7" text-anchor="end" textLength="9.38" lengthAdjust="spacingAndGlyphs">0.2</text><text x="317" y="364" text-anchor="end" textLength="9.38" lengthAdjust="spacingAndGlyphs">0.3</text><text x="317" y="336.3" text-anchor="end" textLength="9.38" lengthAdjust="spacingAndGlyphs">0.4</text><text x="317" y="308.6" text-anchor="end" textLength="9.38" lengthAdjust="spacingAndGlyphs">0.5</text></g>
<rect x="464" y="283" width="75.3" height="19.2" rx="1.2" fill="#fff" fill-opacity="0.94" stroke="#cccccc" stroke-width="0.8"/>
<path d="M465.5 288.5h13.8" stroke="#1f77b4" stroke-width="1.5"/>
<path d="M465.5 297.3h13.8" stroke="#ff7f0e" stroke-width="1.5"/>
<g font-size="6.1" fill="#1a1a1a"><text x="483.6" y="290.6" textLength="43" lengthAdjust="spacingAndGlyphs">MSE Validation</text><text x="483.6" y="299.4" textLength="38.5" lengthAdjust="spacingAndGlyphs">MSE Training</text></g>
<text x="406" y="276.7" font-size="11.4" textLength="71.3" lengthAdjust="spacingAndGlyphs" fill="#111">MSE vs Epoch</text>
<text x="418.8" y="461.8" font-size="8.2" textLength="23.2" lengthAdjust="spacingAndGlyphs" fill="#1a1a1a">Epoch</text>
<text transform="translate(303.4,368.5) rotate(-90)" x="0" y="0" font-size="8.4" textLength="17.5" lengthAdjust="spacingAndGlyphs" fill="#1a1a1a">MSE</text>
<g font-family='"Liberation Serif", serif' font-size="16" fill="#111"><text x="328.6" y="491.2" textLength="18.5" lengthAdjust="spacingAndGlyphs">(<tspan font-weight="bold">d</tspan>)</text><text x="353.6" y="491.2" font-style="italic" textLength="44.9" lengthAdjust="spacing">LSTM</text><text x="397.8" y="494.1" font-style="italic" font-size="11.4" textLength="4.1" lengthAdjust="spacingAndGlyphs">i</text><text x="408.8" y="491.2" textLength="112.1" lengthAdjust="spacingAndGlyphs">Training Curves</text></g>
</g>
</svg></body></html>
